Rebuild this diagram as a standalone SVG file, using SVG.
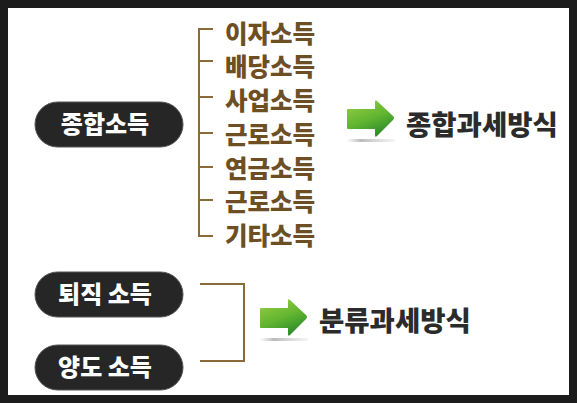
<svg xmlns="http://www.w3.org/2000/svg" width="577" height="403" viewBox="0 0 577 403">
<defs>
<style>
.pill{fill:#262626;stroke:#555;stroke-width:1}
.pt{fill:#fff;font-family:"Noto Sans CJK KR","Noto Sans",sans-serif;font-weight:900;font-size:24px;text-anchor:middle}
.lb{fill:#6e4f24;font-family:"Noto Sans CJK KR","Noto Sans",sans-serif;font-weight:900;font-size:24.5px}
.rt{fill:#2b2b2b;font-family:"Noto Sans CJK KR","Noto Sans",sans-serif;font-weight:900;font-size:27.5px}
.br{stroke:#8b6b3a;stroke-width:2;fill:none}
</style>
<linearGradient id="g" x1="0" y1="0" x2="0.5" y2="1">
<stop offset="0" stop-color="#9ccf45"/>
<stop offset="0.6" stop-color="#62b530"/>
<stop offset="1" stop-color="#2f8f2a"/>
</linearGradient>
<linearGradient id="sh" x1="0" y1="0" x2="1" y2="0">
<stop offset="0" stop-color="#ccc" stop-opacity="0"/>
<stop offset="0.3" stop-color="#bbb"/>
<stop offset="1" stop-color="#ccc" stop-opacity="0.2"/>
</linearGradient>
<symbol id="arrow" viewBox="0 0 52 44">
<rect x="1" y="40" width="49" height="3" fill="url(#sh)"/>
<path d="M3 10 Q2 10 2 11 V29 Q2 30 3 30 H30 V36 Q30 39 32 37 L48 21 Q50 19 48 17 L32 2 Q30 0 30 3 V10 Z" fill="url(#g)"/>
</symbol>
</defs>
<rect x="0" y="0" width="577" height="403" fill="#1c1c1c"/>
<rect x="8" y="8" width="561" height="387" fill="#fff"/>

<g id="connectors">
<path class="br" d="M213 29 H199 V236 H213 M199 61 H213 M199 97 H213 M199 133 H213 M199 167 H213 M199 200 H213"/>
<path class="br" d="M200 284 H244 V361 H200"/>
</g>

<g id="node-jonghap">
<rect class="pill" x="35" y="102" width="148" height="45" rx="22.5"/>
<text class="pt" x="105" y="133">종합소득</text>
</g>
<g id="node-toejik">
<rect class="pill" x="35" y="272" width="148" height="45" rx="22.5"/>
<text class="pt" x="105" y="303">퇴직 소득</text>
</g>
<g id="node-yangdo">
<rect class="pill" x="35" y="345" width="148" height="45" rx="22.5"/>
<text class="pt" x="105" y="376">양도 소득</text>
</g>

<g id="node-items">
<text class="lb" x="225" y="43">이자소득</text>
<text class="lb" x="225" y="76">배당소득</text>
<text class="lb" x="225" y="110">사업소득</text>
<text class="lb" x="225" y="144">근로소득</text>
<text class="lb" x="225" y="178">연금소득</text>
<text class="lb" x="225" y="211">근로소득</text>
<text class="lb" x="225" y="245">기타소득</text>
</g>

<g id="node-arrow1">
<use href="#arrow" x="345" y="99" width="52" height="44"/>
</g>
<g id="node-jonghapgwase">
<text class="rt" x="406" y="135">종합과세방식</text>
</g>
<g id="node-arrow2">
<use href="#arrow" x="258" y="298" width="52" height="44"/>
</g>
<g id="node-bunryu">
<text class="rt" x="319" y="331">분류과세방식</text>
</g>
</svg>
